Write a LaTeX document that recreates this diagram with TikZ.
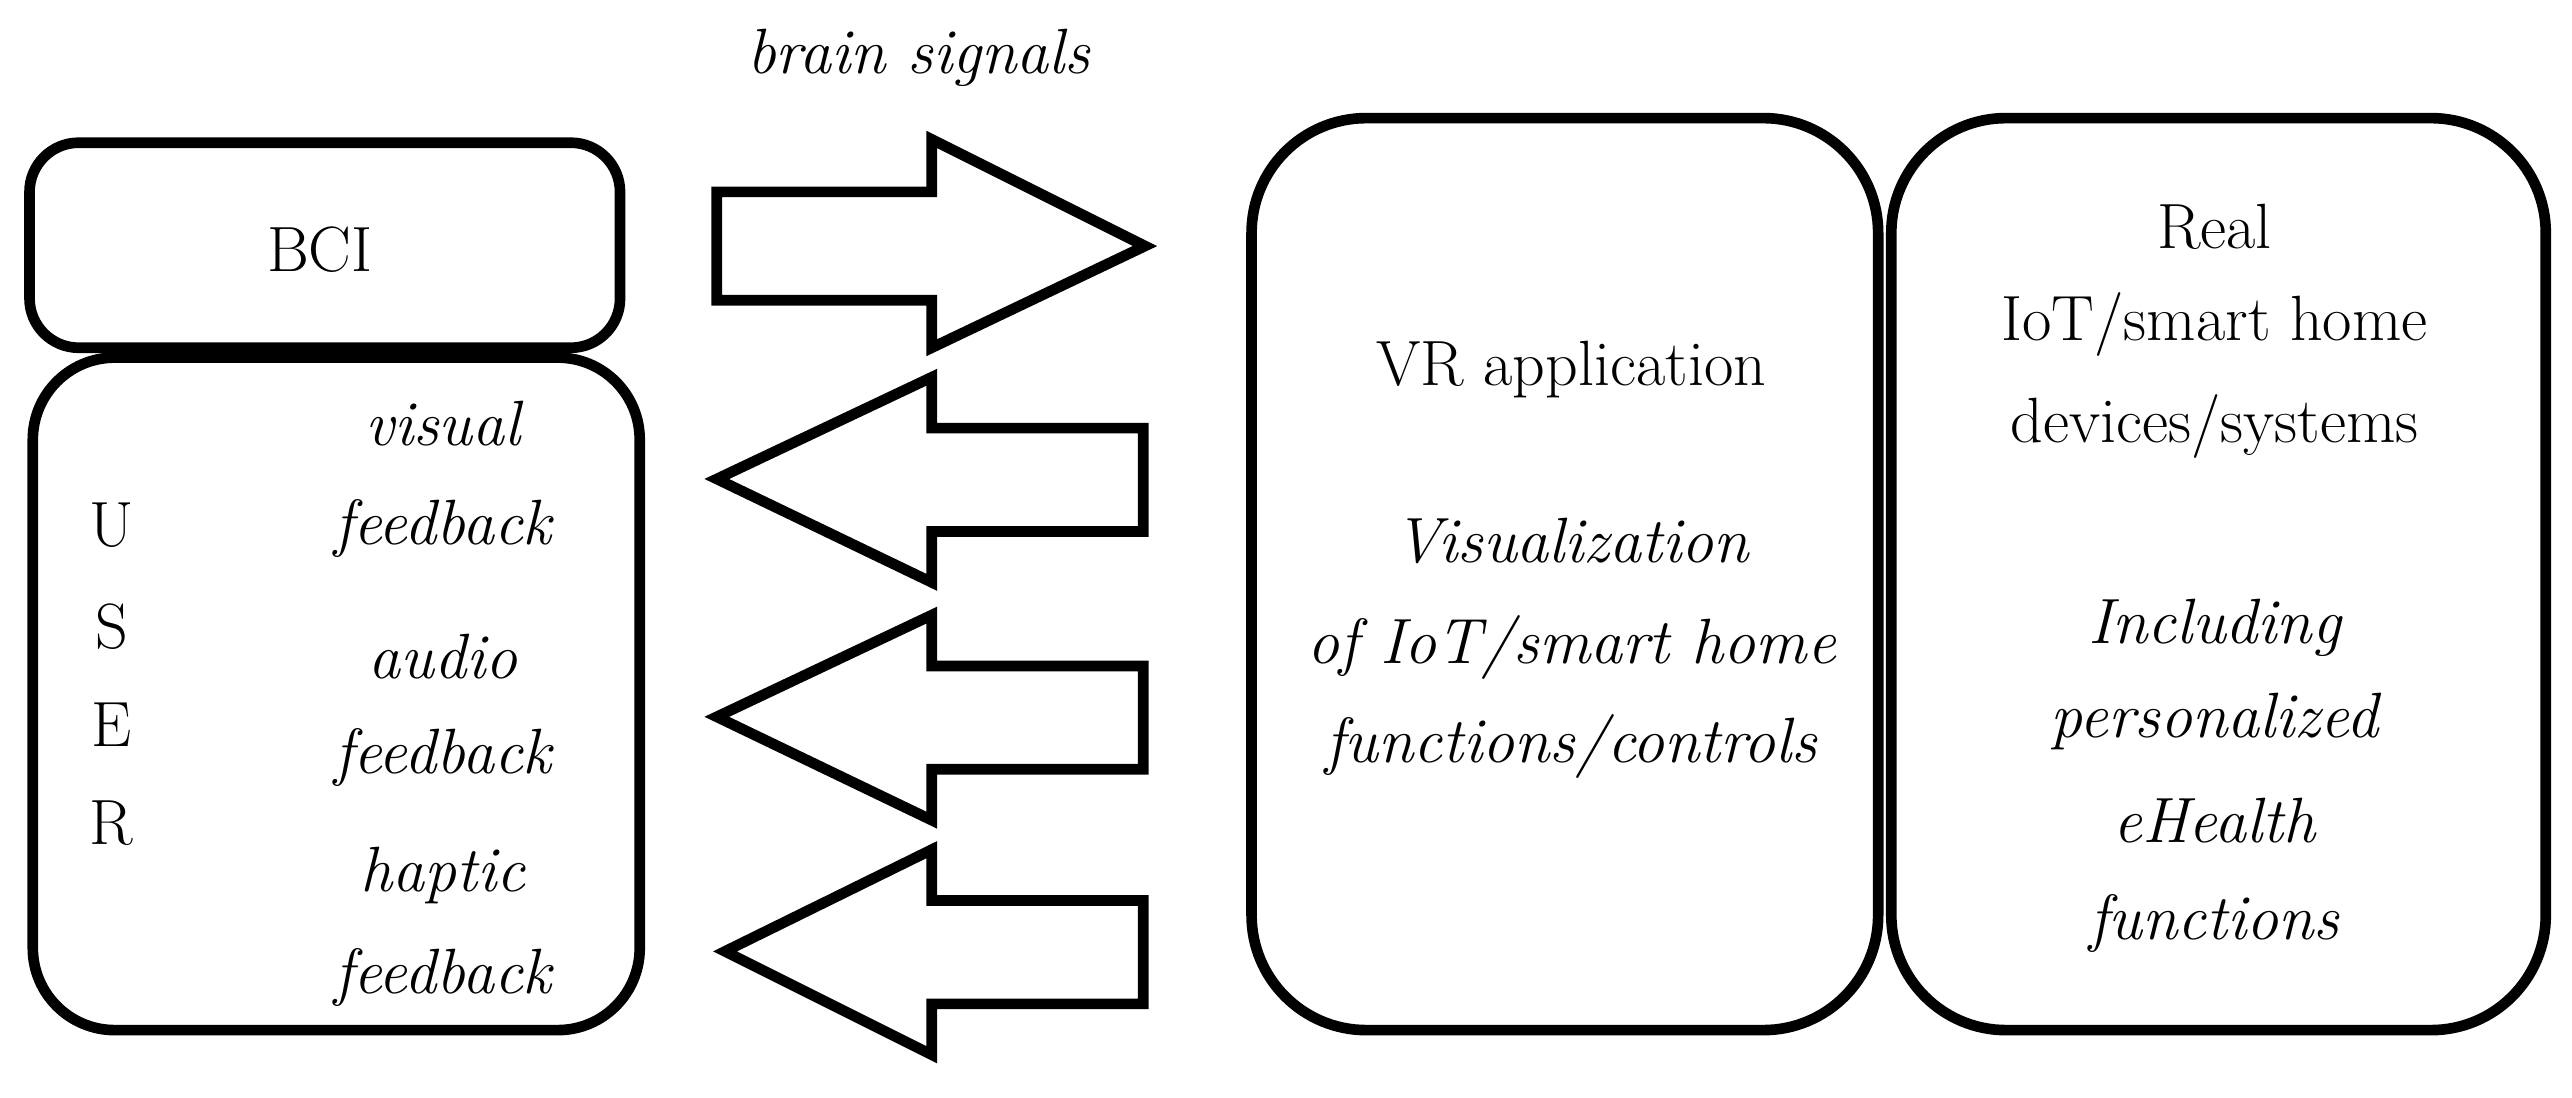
\documentclass[tikz,border=0pt]{standalone}
\begin{document}
\begin{tikzpicture}[x=1pt,y=-1pt,line width=6.5pt,line join=miter,
  box/.style={draw,rounded corners=#1},
  txt/.style={font=\fontsize{39}{45}\selectfont,inner sep=0pt},
  itx/.style={font=\fontsize{39}{45}\selectfont\itshape,inner sep=0pt}]
\useasboundingbox (0,0) rectangle (1568,669);
% boxes
\draw[box=30] (18,87) rectangle (378,212);
\draw[box=50] (20,218) rectangle (390,628);
\draw[box=70] (763,72) rectangle (1145,628);
\draw[box=70] (1153,72) rectangle (1552,628);
% arrows
\draw (437,117) -- (568,117) -- (568,85) -- (698,150) -- (568,212) -- (568,183) -- (437,183) -- cycle;
\foreach \t/\y in {437/292,437/437,442/580}{
  \draw (697,\y-31) -- (568,\y-31) -- (568,\y-62) -- (\t,\y) -- (568,\y+63) -- (568,\y+32) -- (697,\y+32) -- cycle;
}
% texts
\node[itx] (bs) at (560,35) {brain signals};
\node[txt] (bci) at (195,152) {BCI};
\node[txt] (u) at (68,320) {U};
\node[txt] (s) at (68,382) {S};
\node[txt] (e) at (68,442) {E};
\node[txt] (r) at (68,502) {R};
\node[itx] (f1) at (270,258) {visual};
\node[itx] (f2) at (270,322) {feedback};
\node[itx] (f3) at (270,400) {audio};
\node[itx] (f4) at (270,462) {feedback};
\node[itx] (f5) at (270,534) {haptic};
\node[itx] (f6) at (270,596) {feedback};
\node[txt] (vr) at (958,225) {VR application};
\node[itx] (v1) at (958,330) {Visualization};
\node[itx] (v2) at (958,395) {of IoT/smart home};
\node[itx] (v3) at (958,455) {functions/controls};
\node[txt] (r1) at (1350,138) {Real};
\node[txt] (r2) at (1350,198) {IoT/smart home};
\node[txt] (r3) at (1350,260) {devices/systems};
\node[itx] (i1) at (1350,383) {Including};
\node[itx] (i2) at (1350,440) {personalized};
\node[itx] (i3) at (1350,500) {eHealth};
\node[itx] (i4) at (1350,563) {functions};
\end{tikzpicture}
\end{document}
